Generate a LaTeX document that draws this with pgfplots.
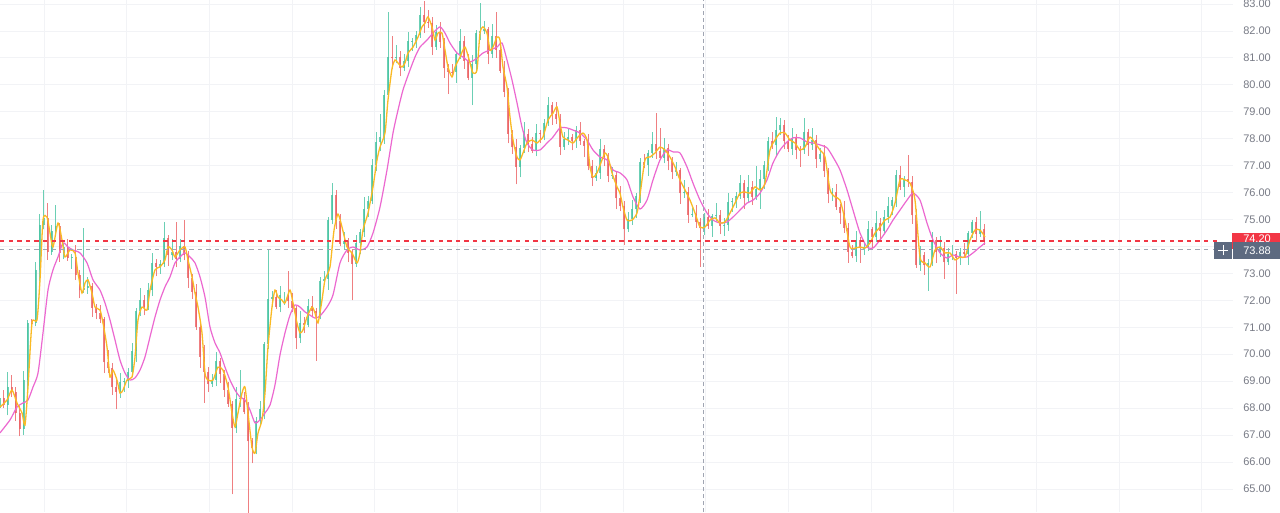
\documentclass[border=0pt]{standalone}
\usepackage{pgfplots}
\usepackage{pgfplotstable}
\usepackage{fontspec}
\setmainfont{Liberation Sans}
\pgfplotsset{compat=1.18}

\definecolor{upcol}{RGB}{70,196,162}
\definecolor{dncol}{RGB}{236,96,98}
\definecolor{macol}{RGB}{250,186,36}
\definecolor{slowcol}{RGB}{236,104,208}
\definecolor{gridcol}{RGB}{242,243,246}
\definecolor{labelcol}{RGB}{120,123,134}
\definecolor{lastred}{RGB}{242,54,69}
\definecolor{boxcol}{RGB}{93,106,128}
\definecolor{crosscol}{RGB}{160,165,178}

% t = bar position, o h l c = open high low close
\pgfplotstableread{
t o h l c
0 68.00 68.54 67.75 68.39
4 68.39 68.69 68.01 68.13
8 68.13 69.35 67.73 68.77
12 68.77 69.22 68.41 68.59
16 68.59 68.79 67.52 67.82
20 67.82 68.07 66.95 67.22
24 67.22 69.38 67.00 69.03
28 69.03 71.28 68.68 71.16
32 71.16 71.31 70.90 71.15
36 71.15 73.41 71.03 73.11
40 73.11 75.20 72.71 74.81
44 74.81 76.10 74.63 75.04
48 75.04 75.60 73.50 73.80
52 73.80 74.81 73.70 74.56
56 74.56 75.55 74.34 74.75
60 74.75 74.87 73.42 73.77
64 73.77 74.12 73.52 73.97
68 73.97 74.27 73.46 73.58
72 73.58 73.71 73.18 73.61
76 73.61 74.06 72.76 72.94
80 72.94 73.14 72.07 72.37
84 72.37 74.70 72.27 72.46
88 72.46 72.87 72.24 72.52
92 72.52 72.64 71.38 71.73
96 71.73 71.88 71.29 71.54
100 71.54 71.84 71.17 71.29
104 71.29 71.39 69.30 69.70
108 69.70 70.15 69.29 69.47
112 69.47 69.67 68.48 68.78
116 68.78 69.03 67.95 68.61
120 68.61 69.31 68.39 68.96
124 68.96 69.13 68.61 69.01
128 69.01 69.50 68.76 69.35
132 69.35 70.41 69.23 70.11
136 70.11 71.71 69.71 71.61
140 71.61 72.46 71.43 72.01
144 72.01 72.21 71.44 71.74
148 71.74 72.63 71.64 72.38
152 72.38 73.75 72.16 73.40
156 73.40 73.52 72.89 73.24
160 73.24 73.50 72.99 73.35
164 73.35 74.90 73.23 74.33
168 74.33 74.43 73.27 73.67
172 73.67 74.26 73.49 73.81
176 73.81 74.92 73.22 73.52
180 73.52 74.26 73.42 74.01
184 74.01 74.98 73.48 73.70
188 73.70 73.82 72.47 72.82
192 72.82 72.97 72.05 72.30
196 72.30 72.60 70.90 71.02
200 71.02 71.12 69.50 69.90
204 69.90 70.35 68.20 69.34
208 69.34 69.54 68.59 68.89
212 68.89 69.28 68.79 69.03
216 69.03 70.08 68.81 69.73
220 69.73 69.85 68.93 69.28
224 69.28 69.43 68.43 68.68
228 68.68 68.98 68.05 68.17
232 68.17 68.27 64.80 67.27
236 67.27 68.79 67.09 68.34
240 68.34 69.40 68.04 68.36
244 68.36 68.61 67.77 67.87
248 67.87 68.22 64.10 66.76
252 66.76 66.88 65.95 66.53
256 66.53 67.67 66.28 67.52
260 67.52 68.28 67.40 67.98
264 67.98 70.47 67.58 70.37
268 70.37 73.85 70.19 72.05
272 72.05 72.34 71.75 72.14
276 72.14 72.39 71.67 71.77
280 71.77 72.54 71.55 72.19
284 72.19 72.31 71.84 72.19
288 72.19 73.10 71.71 71.96
292 71.96 72.26 71.58 71.70
296 71.70 71.80 70.19 70.59
300 70.59 71.62 70.41 71.17
304 71.17 71.37 70.80 71.10
308 71.10 72.05 71.00 71.80
312 71.80 72.15 71.39 71.61
316 71.61 71.73 69.75 71.54
320 71.54 72.86 71.29 72.71
324 72.71 73.10 72.59 72.80
328 72.80 75.10 72.40 75.00
332 75.00 76.35 74.82 75.90
336 75.90 76.10 74.65 74.95
340 74.95 75.20 74.00 74.10
344 74.10 74.54 73.88 74.19
348 74.19 74.31 73.41 73.76
352 73.76 73.91 72.00 73.36
356 73.36 74.41 73.24 74.11
360 74.11 74.64 73.71 74.54
364 74.54 75.84 74.36 75.39
368 75.39 75.87 75.09 75.67
372 75.67 77.26 75.57 77.01
376 77.01 78.24 76.79 77.89
380 77.89 78.90 77.54 78.06
384 78.06 79.79 77.81 79.64
388 79.64 82.70 79.52 81.04
392 81.04 81.80 80.58 80.98
396 80.98 81.49 80.80 81.04
400 81.04 81.24 80.31 80.61
404 80.61 81.13 80.51 80.88
408 80.88 81.96 80.66 81.61
412 81.61 81.74 81.26 81.62
416 81.62 82.01 81.37 81.86
420 81.86 82.89 81.74 82.59
424 82.59 83.10 81.92 82.32
428 82.32 82.77 82.12 82.30
432 82.30 82.50 81.10 81.40
436 81.40 82.22 81.30 81.97
440 81.97 82.32 81.38 81.60
444 81.60 81.72 80.26 80.61
448 80.61 80.76 79.65 80.49
452 80.49 80.79 80.36 80.48
456 80.48 81.23 80.08 81.13
460 81.13 82.08 80.95 81.63
464 81.63 81.83 80.60 80.90
468 80.90 81.15 80.16 80.26
472 80.26 81.12 79.25 80.77
476 80.77 82.04 80.42 81.92
480 81.92 83.05 81.67 81.99
484 81.99 82.36 81.87 82.06
488 82.06 82.16 80.76 81.16
492 81.16 82.25 80.98 81.80
496 81.80 82.70 81.01 81.31
500 81.31 81.56 80.43 80.53
504 80.53 80.88 79.53 79.75
508 79.75 79.87 77.83 78.18
512 78.18 78.33 77.43 77.68
516 77.68 77.98 76.30 76.96
520 76.96 77.75 76.56 77.65
524 77.65 78.61 77.47 78.16
528 78.16 78.36 77.50 77.80
532 77.80 78.05 77.46 77.56
536 77.56 78.55 77.34 78.20
540 78.20 78.32 77.84 78.19
544 78.19 78.74 77.94 78.59
548 78.59 79.55 78.47 79.25
552 79.25 79.35 78.52 78.92
556 78.92 79.37 78.55 78.73
560 78.73 78.93 77.39 77.69
564 77.69 78.25 77.59 78.00
568 78.00 78.41 77.78 78.06
572 78.06 78.18 77.57 77.92
576 77.92 78.47 77.67 78.32
580 78.32 78.62 77.78 77.90
584 77.90 78.00 77.32 77.72
588 77.72 78.17 76.82 77.00
592 77.00 77.20 76.24 76.54
596 76.54 76.97 76.44 76.72
600 76.72 77.98 76.50 77.63
604 77.63 77.75 76.97 77.32
608 77.32 77.47 76.38 76.63
612 76.63 76.96 76.51 76.66
616 76.66 76.76 75.38 75.78
620 75.78 76.23 75.31 75.49
624 75.49 75.69 74.05 74.63
628 74.63 75.28 74.53 75.03
632 75.03 75.74 74.81 75.39
636 75.39 75.98 75.04 75.86
640 75.86 77.30 75.61 77.15
644 77.15 77.45 76.91 77.03
648 77.03 77.58 76.63 77.48
652 77.48 78.26 77.30 77.81
656 77.81 78.95 77.24 77.54
660 77.54 78.40 77.20 77.30
664 77.30 78.02 77.08 77.67
668 77.67 77.79 76.82 77.17
672 77.17 77.32 76.50 76.75
676 76.75 77.12 76.63 76.82
680 76.82 76.92 75.57 75.97
684 75.97 76.47 75.79 76.02
688 76.02 76.22 74.88 75.18
692 75.18 75.44 75.08 75.19
696 75.19 75.54 74.70 74.92
700 74.92 75.04 73.25 74.67
704 74.67 75.23 74.42 75.08
708 75.08 75.38 74.64 74.76
712 74.76 75.22 74.36 75.12
716 75.12 75.62 74.94 75.17
720 75.17 75.37 74.45 74.75
724 74.75 75.06 74.40 74.81
728 74.81 75.99 74.59 75.64
732 75.64 75.80 75.29 75.68
736 75.68 76.03 75.43 75.88
740 75.88 76.66 75.76 76.36
744 76.36 76.46 75.40 75.80
748 75.80 76.67 75.62 76.22
752 76.22 76.42 75.54 75.84
756 75.84 77.00 75.74 76.15
760 76.15 76.85 75.40 76.50
764 76.50 77.16 76.15 77.04
768 77.04 78.08 76.79 77.93
772 77.93 78.23 77.63 77.75
776 77.75 78.82 77.35 78.31
780 78.31 78.75 78.13 78.51
784 78.51 78.71 77.60 77.90
788 77.90 78.15 77.51 77.61
792 77.61 78.39 77.39 78.04
796 78.04 78.16 77.23 77.58
800 77.58 77.73 76.95 77.57
804 77.57 78.78 77.45 78.26
808 78.26 78.36 77.37 77.77
812 77.77 78.39 77.59 77.94
816 77.94 78.14 76.93 77.23
820 77.23 77.67 77.13 77.42
824 77.42 77.77 76.57 76.79
828 76.79 76.91 75.60 75.95
832 75.95 76.17 75.70 76.02
836 76.02 76.32 75.35 75.47
840 75.47 75.57 74.83 75.23
844 75.23 75.68 74.50 74.68
848 74.68 74.88 73.40 73.81
852 73.81 74.06 73.56 73.66
856 73.66 74.58 73.44 74.23
860 74.23 74.35 73.40 73.95
864 73.95 74.11 73.70 73.96
868 73.96 74.93 73.84 74.63
872 74.63 74.73 73.94 74.34
876 74.34 75.32 74.16 74.87
880 74.87 75.07 74.28 74.58
884 74.58 75.35 74.48 75.10
888 75.10 75.85 74.88 75.50
892 75.50 75.85 75.15 75.73
896 75.73 76.82 75.48 76.67
900 76.67 76.97 76.10 76.22
904 76.22 76.60 75.82 76.50
908 76.50 77.40 76.22 76.40
912 76.40 76.60 74.85 75.15
916 75.15 75.40 73.21 73.31
920 73.31 74.03 73.09 73.68
924 73.68 73.80 72.95 73.30
928 73.30 73.54 72.35 73.39
932 73.39 74.54 73.27 74.24
936 74.24 74.34 73.38 73.78
940 73.78 74.40 73.60 73.95
944 73.95 74.15 72.80 73.41
948 73.41 73.96 73.31 73.71
952 73.71 74.07 73.49 73.72
956 73.72 73.84 72.25 73.56
960 73.56 73.96 73.31 73.81
964 73.81 74.11 73.60 73.72
968 73.72 74.59 73.32 74.49
972 74.49 75.00 74.31 74.91
976 74.91 75.11 74.16 74.46
980 74.46 75.30 74.36 74.65
984 74.65 74.85 74.05 74.20
}\candles

\pgfplotsset{
  candle/.style n args={3}{forget plot, draw=none, mark=none,
    restrict expr to domain={\thisrow{c}-\thisrow{o}}{#2},
    error bars/.cd, y dir=plus, y explicit, error mark=none,
    error bar style={draw=#1, line width=#3, opacity=0.8}},
}

\begin{document}
\begin{tikzpicture}
\fill[white] (0,0) rectangle (1280pt,512pt);
\begin{axis}[
  at={(0,0)}, anchor=south west,
  scale only axis, width=1233pt, height=512pt,
  xmin=0, xmax=1233, ymin=64.143, ymax=83.148,
  axis line style={draw=none},
  tick style={draw=none},
  xtick={44,126.7,209.4,292.1,374.8,457.5,540.2,622.9,705.6,788.3,871,953.7,1036.4,1119.1,1201.8},
  xticklabels={},
  ytick={65,66,...,83},
  yticklabel pos=right,
  yticklabel style={anchor=east, xshift=38pt, inner sep=0pt, text=labelcol,
    font=\fontsize{11}{13}\selectfont,
    /pgf/number format/fixed, /pgf/number format/fixed zerofill,
    /pgf/number format/precision=2, /pgf/number format/assume math mode=true},
  grid=major, grid style={gridcol, line width=0.8pt},
]
% wicks
\addplot[candle={upcol}{0:100}{1pt}]
  table[x=t, y=l, y error plus expr=\thisrow{h}-\thisrow{l}] {\candles};
\addplot[candle={dncol}{-100:-0.00001}{1pt}]
  table[x=t, y=l, y error plus expr=\thisrow{h}-\thisrow{l}] {\candles};
% bodies
\addplot[candle={upcol}{0:100}{2.8pt}]
  table[x=t, y expr={min(\thisrow{o},\thisrow{c})}, y error plus expr={abs(\thisrow{c}-\thisrow{o})}] {\candles};
\addplot[candle={dncol}{-100:-0.00001}{2.8pt}]
  table[x=t, y expr={min(\thisrow{o},\thisrow{c})}, y error plus expr={abs(\thisrow{c}-\thisrow{o})}] {\candles};

% slow average
\addplot[color=slowcol, line width=1.2pt, smooth, tension=0.4] coordinates {
(0,67.08)(10,67.56)(17,68.04)(23,68.19)(28,68.30)(33,68.78)(38,69.30)(43,70.79)(48,72.38)(53,73.13)
(58,73.61)(63,74.13)(68,73.98)(73,73.87)(80,73.76)(87,73.39)(93,72.76)(100,72.38)(105,71.90)(110,71.27)
(115,70.53)(120,69.78)(125,69.30)(130,69.04)(135,69.12)(140,69.41)(145,69.90)(150,70.64)(155,71.38)(160,72.01)
(165,72.50)(170,72.87)(175,73.39)(180,73.61)(185,73.76)(190,73.61)(195,73.39)(200,72.87)(205,72.12)(210,71.01)
(215,70.42)(220,70.05)(225,69.52)(230,69.04)(235,68.67)(240,68.41)(245,68.30)(250,67.93)(255,67.45)(260,67.56)
(265,67.82)(270,68.11)(275,68.86)(280,69.97)(285,70.79)(290,71.45)(295,71.83)(300,71.75)(305,71.57)(310,71.45)
(315,71.34)(320,71.42)(327,71.75)(333,72.20)(340,73.39)(347,73.87)(353,73.98)(360,73.87)(367,73.98)(373,74.50)
(380,75.46)(387,76.84)(393,78.21)(398,79.06)(403,79.81)(410,80.55)(415,81.03)(420,81.40)(427,81.66)(433,81.92)
(440,82.15)(445,81.92)(450,81.55)(457,81.18)(463,81.03)(470,80.85)(477,80.99)(483,81.18)(490,81.29)(497,81.40)
(502,81.55)(507,80.92)(512,80.18)(517,79.33)(522,78.43)(527,77.84)(533,77.58)(540,77.58)(547,77.84)(553,78.06)
(560,78.40)(567,78.40)(573,78.32)(580,78.21)(587,77.95)(593,77.58)(600,77.32)(607,77.21)(613,76.84)(620,76.73)
(627,76.47)(633,75.84)(640,75.39)(647,75.72)(653,76.47)(660,77.21)(667,77.58)(673,77.51)(680,77.47)(687,76.95)
(693,76.35)(700,75.72)(707,75.24)(713,74.98)(720,74.87)(727,74.91)(733,75.09)(740,75.35)(747,75.61)(753,75.72)
(760,75.98)(767,76.47)(773,77.10)(780,77.58)(787,77.88)(793,78.03)(800,78.03)(807,77.88)(813,77.84)(820,77.77)
(827,77.66)(833,77.32)(840,76.84)(847,76.10)(853,75.35)(860,74.50)(867,73.98)(873,73.94)(880,74.24)(887,74.61)
(893,74.98)(900,75.35)(907,75.72)(913,75.98)(920,75.72)(927,74.87)(933,74.24)(940,73.76)(947,73.57)(953,73.68)
(960,73.61)(967,73.61)(973,73.76)(980,73.98)(985,74.13)
};

% fast average
\addplot[color=macol, line width=1.3pt, smooth, tension=0.4] coordinates {
(0,68.04)(7,68.30)(12,68.67)(17,68.19)(22,67.82)(25,67.37)(28,68.78)(32,71.16)(37,71.27)(40,72.76)
(43,74.98)(47,75.09)(50,74.50)(53,73.98)(58,74.87)(62,74.24)(65,73.61)(70,73.87)(75,73.76)(78,73.01)
(82,72.27)(85,72.64)(88,72.76)(92,72.27)(95,71.75)(100,71.64)(103,71.16)(107,70.27)(110,69.15)(113,69.41)
(117,69.04)(120,68.56)(123,68.67)(127,69.04)(132,69.15)(135,69.90)(138,71.27)(142,71.75)(147,71.64)(150,72.38)
(155,73.13)(160,73.24)(165,73.50)(168,73.98)(172,73.87)(175,73.61)(180,73.87)(185,73.98)(188,73.50)(192,72.87)
(195,72.27)(198,71.75)(202,70.79)(205,69.30)(208,69.04)(213,69.04)(218,69.52)(223,69.41)(228,68.78)(232,67.82)
(235,67.30)(238,67.82)(242,68.56)(245,68.78)(248,67.82)(252,66.56)(255,66.33)(258,67.07)(262,67.56)(265,68.56)
(268,70.27)(272,71.75)(275,72.38)(278,72.12)(282,72.01)(285,71.90)(290,72.38)(293,71.90)(297,71.16)(300,70.79)
(303,70.90)(307,71.38)(312,71.75)(315,71.53)(318,71.16)(322,72.01)(325,72.76)(330,73.24)(334,74.60)(338,75.20)
(342,74.72)(347,73.98)(352,73.76)(357,73.39)(360,73.76)(363,74.61)(368,75.24)(373,76.21)(377,77.21)(380,77.69)
(385,78.21)(388,79.44)(392,80.60)(395,80.92)(398,80.81)(402,80.66)(405,80.81)(408,81.18)(413,81.40)(418,81.77)
(422,82.15)(425,82.29)(428,82.52)(432,82.15)(435,81.66)(438,81.92)(442,81.92)(445,81.29)(448,80.66)(452,80.29)
(455,80.66)(460,81.03)(465,81.40)(470,80.81)(473,80.44)(477,80.55)(480,81.92)(483,82.15)(487,81.92)(490,81.29)
(493,81.40)(497,81.77)(500,81.66)(503,80.66)(507,79.92)(510,78.80)(513,77.95)(517,77.32)(520,77.21)(523,77.47)
(527,77.84)(532,77.95)(537,77.84)(540,77.95)(543,78.06)(548,78.69)(553,78.95)(557,79.18)(560,78.58)(563,78.06)
(568,77.95)(573,77.84)(578,78.06)(583,78.21)(587,77.95)(590,76.95)(593,76.58)(597,76.73)(602,77.21)(605,77.47)
(608,77.32)(612,76.73)(617,76.21)(620,75.98)(623,75.46)(627,74.98)(632,74.98)(637,75.24)(640,75.91)(645,77.21)
(650,77.32)(655,77.47)(660,77.69)(665,77.58)(670,77.32)(675,76.95)(680,76.47)(685,76.10)(690,75.72)(695,75.24)
(700,74.72)(705,74.72)(710,74.98)(715,75.06)(720,74.87)(725,74.91)(730,75.24)(735,75.61)(740,75.98)(745,76.02)
(750,75.98)(755,76.21)(760,76.10)(765,76.35)(770,77.58)(775,77.95)(780,78.21)(785,78.21)(790,77.95)(795,77.84)
(800,77.58)(805,77.69)(810,78.06)(815,77.84)(820,77.58)(825,77.32)(830,76.10)(835,75.84)(840,75.72)(845,74.98)
(850,73.98)(855,73.94)(860,73.98)(865,73.94)(870,74.13)(875,74.50)(880,74.72)(885,74.98)(890,75.09)(895,75.61)
(900,76.47)(905,76.47)(910,76.35)(915,75.72)(920,73.61)(925,73.39)(930,73.24)(935,73.87)(940,73.98)(945,73.76)
(950,73.76)(955,73.50)(960,73.61)(965,73.61)(970,74.24)(975,74.61)(980,74.61)(985,74.35)
};

% crosshair
\draw[draw=crosscol, line width=1pt, dash pattern=on 4pt off 3pt] (axis cs:703,64.143) -- (axis cs:703,83.148);
\end{axis}

% last price (74.20) and cursor price (73.88) lines, dash by dash
\foreach \i in {0,...,141} {
  \fill[lastred] (\i*8.6pt,270.4pt) rectangle ++(4.3pt,1.1pt);
  \fill[crosscol] (\i*8.6pt,261.8pt) rectangle ++(4.3pt,1.1pt);
}

% price scale tags
\fill[lastred] (1232pt,263pt) rectangle (1280pt,279pt);
\node[text=white, font=\fontsize{11}{13}\selectfont, inner sep=0pt, text height=7.5pt, text depth=0pt] at (1257pt,273pt) {74.20};
\fill[boxcol] (1233pt,253pt) rectangle (1280pt,270pt);
\node[text=white, font=\fontsize{11}{13}\selectfont, inner sep=0pt, text height=7.5pt, text depth=0pt] at (1257pt,261.5pt) {73.88};
\fill[boxcol] (1214pt,253pt) rectangle (1232pt,270pt);
\draw[white, line width=0.8pt] (1218pt,261.5pt) -- (1228pt,261.5pt) (1223pt,256.5pt) -- (1223pt,266.5pt);

\pgfresetboundingbox
\path[use as bounding box] (0,0) rectangle (1280pt,512pt);
\end{tikzpicture}
\end{document}
